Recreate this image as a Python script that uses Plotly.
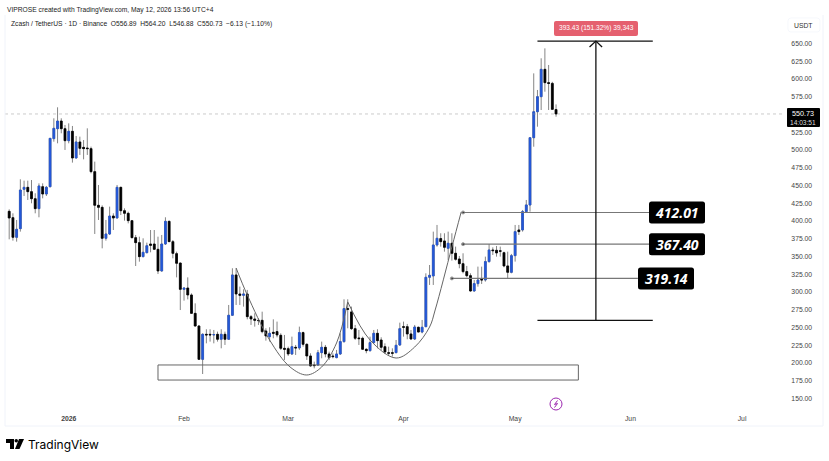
import pandas as pd
import plotly.graph_objects as go

W, H = 829, 461
PLOT_L, PLOT_R, PLOT_T, PLOT_B = 5, 785, 15, 410

dates = pd.date_range("2025-12-16", "2026-05-12", freq="D")

opens = [413.6, 404.7, 377, 389.2, 444.6, 447.4, 441.3, 431.4, 417.4, 448.3, 438, 448.3, 516, 530, 540.8, 530, 513.1, 526.3, 488.7, 511.3,
         503.7, 502.8, 501.9, 469.5, 422.1, 419.2, 375.6, 381.7, 407, 404.2, 447.4, 414.5, 410.8, 400.5, 376.5, 369.5, 349.8, 355.4, 367.6, 367.6,
         360.1, 329.6, 367.6, 399.5, 370.9, 354, 340.8, 303.7, 305.6, 295.8, 269.9, 252.1, 205.1, 240.4, 240.4, 239.5, 240.4, 233.4, 240.4, 233.4,
         267.2, 324, 297.2, 295.3, 297.2, 265.3, 262, 260.1, 260.1, 245.1, 237.1, 243.2, 244.2, 239, 220.7, 220.2, 212.7, 222.1, 221.2, 242.8,
         226.3, 209.9, 197.2, 197.2, 214.6, 222.1, 212.7, 209.9, 207.6, 212.7, 230.1, 276.6, 271.9, 248.4, 235.3, 234.8, 219.3, 217.4, 228.7, 241.8,
         232.4, 223, 214.6, 214.6, 214.6, 225.4, 251.2, 251.2, 240.9, 233.8, 250.3, 243.6, 251.2, 320.7, 322.6, 366.2, 375.2, 371.9, 361.5, 368.6,
         354.5, 346.5, 339.9, 328.7, 323, 301.4, 311.8, 317.9, 316.9, 342.8, 359.2, 358.7, 358.2, 355.4, 336.7, 327.7, 351.2, 387.4, 387.4, 413.2,
         422.5, 517.3, 553.9, 575.1, 613.6, 594.8, 593.8, 556.89]
highs = [416.4, 410.8, 401.4, 458.7, 456.8, 456.8, 457.7, 439, 453, 453, 449.3, 516.4, 544.6, 560.1, 544.6, 535.2, 537.5, 533.8, 519.7, 518.8,
         514, 530.5, 504.7, 483.6, 450.7, 422, 401.4, 420.2, 410.8, 450.7, 448.3, 417.8, 413.1, 401.4, 380.3, 377.9, 375.6, 369.5, 387.3, 387.3,
         377.9, 380.3, 405.2, 400.5, 373.2, 356.8, 341.3, 306.6, 320.6, 298.1, 284, 253.5, 241.8, 247.5, 247.5, 246.5, 244.2, 247.5, 244.2, 281.7,
         333.4, 333.4, 307.6, 303.8, 302.9, 267.6, 270, 263, 272.3, 248.9, 250.3, 261.5, 258.3, 241.8, 239.5, 223, 237.1, 225.4, 251.2, 244.2,
         227.7, 213.7, 201.9, 218.4, 230.1, 225.4, 216, 213.7, 218.4, 241.8, 289.7, 289.7, 279.4, 253.6, 246.5, 237.1, 220.7, 237.1, 246.5, 247.5,
         236.2, 227.7, 223, 220.7, 232.4, 256.8, 258.3, 255, 246.5, 253.6, 251.2, 260.6, 326.3, 338, 385, 394.4, 382.7, 382.7, 385, 382.7,
         363.9, 350.7, 354.5, 336.7, 326.3, 316.9, 335.7, 335.7, 349.8, 367.6, 362.9, 364.8, 363.9, 356.8, 356.8, 353.6, 394.4, 394.4, 415.5, 429.6,
         517.3, 607.9, 584.5, 629.1, 643.1, 619.7, 596, 564.2]
lows = [374.2, 372.3, 370.9, 385, 435.2, 429.6, 424.9, 410.8, 405.2, 431.9, 435.2, 447.4, 511.7, 509.4, 523.5, 500, 509.4, 482.2, 487.8, 493,
        486.8, 493, 467.1, 381.7, 401.4, 361.5, 372.3, 380.3, 387.3, 403.7, 408.4, 400.5, 396.7, 375.6, 336.6, 342.7, 348.8, 354.4, 355.9, 359.2,
        325.3, 328.6, 366.2, 370.4, 347.4, 320.6, 274.6, 287.8, 289.6, 269, 251.2, 204.2, 184.5, 227.7, 230.1, 227.7, 230.1, 220.7, 225.4, 232.4,
        266.2, 281.7, 281.7, 279.4, 261.5, 253.6, 251.2, 253.6, 241.8, 231.5, 230.1, 234.8, 236.2, 218.4, 204.3, 209.9, 211.3, 211.3, 218.4, 223,
        204.3, 194.9, 192.5, 195.8, 206.6, 208, 204.3, 206.6, 206.6, 211.3, 228.7, 248.9, 246.5, 232.4, 225.4, 218.4, 213.7, 216, 227.7, 220.7,
        218.4, 212.7, 209.9, 209, 213.7, 224, 237.1, 233.4, 232.4, 232.4, 243.2, 241.8, 250.3, 309.9, 309.9, 363.9, 363.9, 356.8, 345.1, 344.2,
        344.2, 333.4, 326.3, 320.7, 300.5, 300.5, 307.5, 311.3, 314.6, 341.4, 352.1, 349.8, 349.8, 334.8, 319.3, 326.3, 342.8, 380.3, 385, 411.8,
        413.1, 504.6, 532.8, 556.3, 582.1, 556.3, 556.3, 546.88]
closes = [404.2, 377, 388.3, 443.6, 447.4, 441.3, 431.4, 417.4, 449.3, 438, 447.4, 516.4, 530.5, 540.8, 530, 513.1, 526.3, 488.7, 511.3, 502.3,
          501.9, 501.9, 469.5, 422.1, 419.2, 375.6, 381.7, 407, 404.2, 447.4, 414.5, 410.8, 400.5, 376.5, 369.5, 349.8, 355.9, 365.2, 365.7, 360.1,
          329.6, 367.6, 399.5, 370.9, 354.4, 340.4, 303.7, 305.6, 295.8, 269.9, 252.1, 205.1, 240.4, 239.5, 239.5, 240, 233.4, 240.4, 233.4, 267.2,
          324, 297.2, 295.3, 297.2, 265.3, 262, 260.1, 259.7, 244.2, 238.1, 241.8, 241.8, 239.5, 220.7, 219.3, 212.7, 223, 221.2, 242.8, 226.3,
          209.9, 195.8, 196.3, 214.6, 222.1, 212.7, 207.6, 209, 212.7, 230.1, 276.6, 275.6, 248.4, 234.8, 234.3, 219.3, 217.4, 228.7, 241.8, 231.5,
          222.1, 215.5, 213.7, 213.7, 224.9, 248.4, 250.3, 240.9, 233.8, 250.7, 243.6, 250.3, 320.7, 323.5, 366.2, 375.6, 370.9, 362.9, 368.6, 354.5,
          346, 339.9, 328.7, 323, 301.4, 311.8, 316.9, 316.9, 342.8, 359.2, 358.2, 355, 357.3, 336.7, 327.7, 351.2, 385, 385, 413.2, 422.6,
          517.3, 553.9, 575.1, 613.6, 594.8, 593.8, 557.2, 550.73]

price_ticks = [650, 625, 600, 575, 525, 500, 475, 450, 425, 400, 375, 350, 325, 300, 275, 250, 225, 200, 175, 150]
month_ticks = ["2026-01-01", "2026-02-01", "2026-03-01", "2026-04-01", "2026-05-01", "2026-06-01", "2026-07-01"]
month_labels = ["<b>2026</b>", "Feb", "Mar", "Apr", "May", "Jun", "Jul"]

cup_left_x = ["2026-02-15", "2026-02-18", "2026-02-24", "2026-03-01 12:00", "2026-03-06", "2026-03-10", "2026-03-14", "2026-03-17"]
cup_left_y = [333.8, 295.8, 232.4, 194.4, 183.1, 194.4, 228.2, 286]
cup_right_x = ["2026-03-17", "2026-03-23", "2026-03-30", "2026-04-04", "2026-04-08", "2026-04-09 12:00", "2026-04-14", "2026-04-16 12:00"]
cup_right_y = [286, 232.4, 207, 222.5, 250.7, 274.6, 363.4, 412.7]

levels = [412.01, 367.40, 319.14]
level_starts = ["2026-04-17", "2026-04-17", "2026-04-14"]
level_ends = ["2026-06-06", "2026-06-06", "2026-06-03"]
level_label_boxes = [(649, 705), (649, 705), (638, 694)]

target_low, target_high = 260, 653.43
target_x = "2026-05-22 17:00"
target_from, target_to = "2026-05-07", "2026-06-07"
support_low, support_high = 176, 197.2

last_price = 550.73

UP = "#2458d8"
DOWN = "#000000"
WICK = "#666666"
FONT = "Liberation Sans"
TEXT = "#444444"


def px(x):
    return (x - PLOT_L) / (PLOT_R - PLOT_L)


def py(y):
    return (PLOT_B - y) / (PLOT_B - PLOT_T)


def round_box(x0, x1, y0, y1, r, fill, line="rgba(0,0,0,0)"):
    # rounded rectangle in page pixels, mapped to paper coordinates
    pts = (f"M {px(x0 + r)} {py(y0)} L {px(x1 - r)} {py(y0)} Q {px(x1)} {py(y0)} {px(x1)} {py(y0 + r)} "
           f"L {px(x1)} {py(y1 - r)} Q {px(x1)} {py(y1)} {px(x1 - r)} {py(y1)} "
           f"L {px(x0 + r)} {py(y1)} Q {px(x0)} {py(y1)} {px(x0)} {py(y1 - r)} "
           f"L {px(x0)} {py(y0 + r)} Q {px(x0)} {py(y0)} {px(x0 + r)} {py(y0)} Z")
    return dict(type="path", xref="paper", yref="paper", path=pts, fillcolor=fill, line=dict(color=line, width=0.6), layer="above")


def page_text(x, y, text, size=7, color=TEXT, xanchor="left", family=FONT):
    return dict(xref="paper", yref="paper", x=px(x), y=py(y), text=text, showarrow=False, xanchor=xanchor, yanchor="middle",
                font=dict(family=family, size=size, color=color), borderpad=0, bgcolor="rgba(0,0,0,0)")


fig = go.Figure()

# wicks first, then bodies drawn without a grey edge on top
fig.add_trace(go.Candlestick(x=dates, open=opens, high=highs, low=lows, close=closes,
                             increasing=dict(line=dict(color=WICK, width=0.8), fillcolor=UP),
                             decreasing=dict(line=dict(color=WICK, width=0.8), fillcolor=DOWN),
                             whiskerwidth=0, showlegend=False))
body_tops = [max(o, c) for o, c in zip(opens, closes)]
body_bottoms = [min(o, c) for o, c in zip(opens, closes)]
fig.add_trace(go.Candlestick(x=dates, open=opens, high=body_tops, low=body_bottoms, close=closes,
                             increasing=dict(line=dict(color=UP, width=0.6), fillcolor=UP),
                             decreasing=dict(line=dict(color=DOWN, width=0.6), fillcolor=DOWN),
                             whiskerwidth=0, showlegend=False))

for cx, cy in ((cup_left_x, cup_left_y), (cup_right_x, cup_right_y)):
    fig.add_trace(go.Scatter(x=cx, y=cy, mode="lines", line=dict(color="#666666", width=1, shape="spline", smoothing=1), showlegend=False))

for lvl, start, end in zip(levels, level_starts, level_ends):
    fig.add_trace(go.Scatter(x=[start, end], y=[lvl, lvl], mode="lines+markers", line=dict(color="#777777", width=1.1),
                             marker=dict(size=[3, 0], color="#222222"), showlegend=False))

# measuring arrow
fig.add_trace(go.Scatter(x=[target_x, target_x], y=[target_low, target_high], mode="lines", line=dict(color="#111111", width=1.3), showlegend=False))
fig.add_trace(go.Scatter(x=["2026-05-21", target_x, "2026-05-24 09:00"], y=[644.9, target_high, 644.9], mode="lines",
                         line=dict(color="#111111", width=1.3), showlegend=False))
for val in (target_low, target_high):
    fig.add_trace(go.Scatter(x=[target_from, target_to], y=[val, val], mode="lines", line=dict(color="#111111", width=1.3), showlegend=False))

shapes = [
    dict(type="line", xref="paper", yref="y", x0=0, x1=1, y0=last_price, y1=last_price, line=dict(color="#999999", width=0.5, dash="dot")),
    dict(type="rect", xref="x", yref="y", x0="2026-01-25", x1="2026-05-18", y0=support_low, y1=support_high,
         line=dict(color="#666666", width=1), fillcolor="rgba(0,0,0,0)", layer="above"),
    # faint chart frame
    dict(type="line", xref="paper", yref="paper", x0=px(5), x1=px(5), y0=py(15), y1=py(426), line=dict(color="#f0f3fa", width=1)),
    dict(type="line", xref="paper", yref="paper", x0=px(823), x1=px(823), y0=py(15), y1=py(426), line=dict(color="#f0f3fa", width=1)),
    dict(type="line", xref="paper", yref="paper", x0=px(5), x1=px(823), y0=py(426), y1=py(426), line=dict(color="#f0f3fa", width=1)),
    round_box(554, 638, 21, 36, 2, "#e5606f"),
    round_box(787, 820, 108, 127, 1, "#000000"),
    round_box(788, 820, 18, 32, 3, "#ffffff", "#f0f3fa"),
    # lightning badge
    dict(type="circle", xref="paper", yref="paper", x0=px(550), x1=px(562), y0=py(398), y1=py(410), line=dict(color="#9c27b0", width=1), fillcolor="#ffffff"),
    dict(type="path", xref="paper", yref="paper", line=dict(color="#9c27b0", width=1),
         path=f"M {px(557.5)} {py(400.5)} L {px(554.5)} {py(404.5)} L {px(557.5)} {py(403.5)} L {px(554.5)} {py(407.5)}"),
    # TradingView logo glyph
    dict(type="path", xref="paper", yref="paper", fillcolor="#000000", line=dict(width=0),
         path=f"M {px(6)} {py(439)} L {px(14)} {py(439)} L {px(14)} {py(449)} L {px(10)} {py(449)} L {px(10)} {py(443)} L {px(6)} {py(443)} Z"),
    dict(type="circle", xref="paper", yref="paper", fillcolor="#000000", line=dict(width=0), x0=px(14.5), x1=px(18), y0=py(439), y1=py(442.5)),
    dict(type="path", xref="paper", yref="paper", fillcolor="#000000", line=dict(width=0),
         path=f"M {px(19)} {py(439)} L {px(24)} {py(439)} L {px(19.5)} {py(449)} L {px(15)} {py(449)} Z"),
]

annotations = [
    page_text(6, 10, "VIPROSE created with TradingView.com, May 12, 2026 13:56 UTC+4", 6.7, "#222222"),
    page_text(10, 24, "Zcash / TetherUS · 1D · Binance &nbsp;O556.89 &nbsp;H564.20 &nbsp;L546.88 &nbsp;C550.73 &nbsp;−6.13 (−1.10%)", 6.7, "#222222"),
    page_text(596, 28.5, "393.43 (151.32%) 39,343", 6.6, "#ffffff", "center"),
    page_text(804, 25, "USDT", 6.8, "#333333", "center"),
    page_text(803.5, 113.5, str(last_price), 7.2, "#ffffff", "center"),
    page_text(803.5, 122, "14:03:51", 6.6, "#dddddd", "center"),
    page_text(27, 444.5, "TradingView", 12, "#000000", family="Inter"),
]

for lvl, (x0, x1) in zip(levels, level_label_boxes):
    mid_y = PLOT_T + (650 - lvl) * 0.71 + 28.5
    shapes.append(round_box(x0, x1, mid_y - 11, mid_y + 11, 2.5, "#000000"))
    annotations.append(page_text((x0 + x1) / 2, mid_y, f"<b><i>{lvl:.2f}</i></b>", 14, "#ffffff", "center", "Open Sans"))

fig.update_layout(
    width=W, height=H,
    margin=dict(l=PLOT_L, r=W - PLOT_R, t=PLOT_T, b=H - PLOT_B, pad=0),
    paper_bgcolor="#ffffff", plot_bgcolor="#ffffff",
    showlegend=False, shapes=shapes, annotations=annotations,
    font=dict(family=FONT, size=7, color=TEXT),
    hovermode=False,
    xaxis=dict(range=["2025-12-14 21:00", "2026-07-12 13:00"], rangeslider=dict(visible=False), showgrid=False, zeroline=False,
               showline=False, tickmode="array", tickvals=month_ticks, ticktext=month_labels, ticks="outside", ticklen=2,
               tickcolor="rgba(0,0,0,0)", tickfont=dict(size=6.8, color=TEXT, family=FONT)),
    yaxis=dict(range=[133.8, 690.1], side="right", showgrid=False, zeroline=False, showline=False, tickmode="array", tickvals=price_ticks,
               ticktext=[f"{v:.2f}" for v in price_ticks], ticks="outside", ticklen=4, tickcolor="rgba(0,0,0,0)",
               tickfont=dict(size=6.8, color=TEXT, family=FONT)),
)

fig.write_html("out.html", config=dict(displayModeBar=False), post_script="document.body.style.margin='0';")
